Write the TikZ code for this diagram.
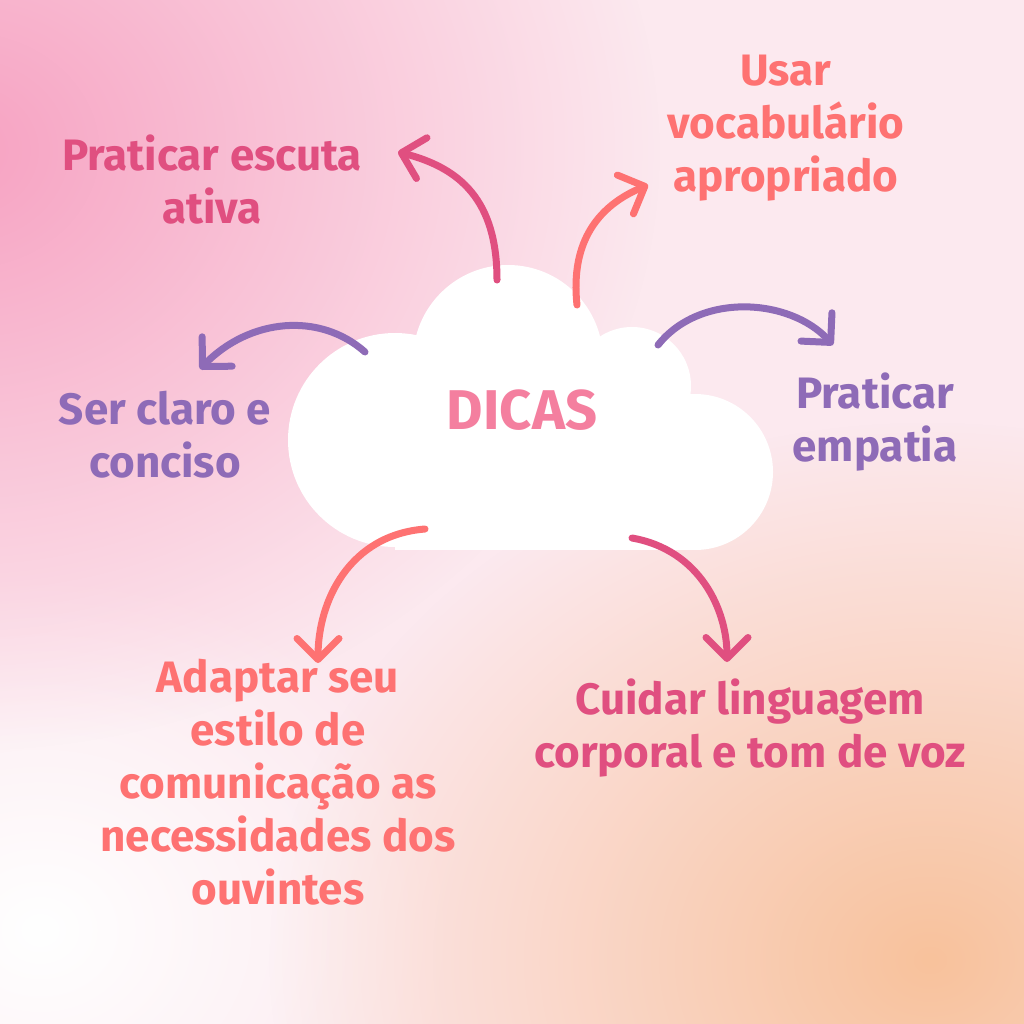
\documentclass[tikz,border=0pt]{standalone}
\usepackage{fontspec}
\setmainfont{Fira Sans}
\usetikzlibrary{arrows.meta,fadings}
\tikzfading[name=softblob, inner color=transparent!0, outer color=transparent!100]
\definecolor{bgbase}{HTML}{FCE9EF}
\definecolor{bgpink}{HTML}{F7A2C2}
\definecolor{bgpeach}{HTML}{F8C29C}
\definecolor{cpink}{HTML}{E04F80}
\definecolor{ccoral}{HTML}{FE7272}
\definecolor{cpurple}{HTML}{8E6BB7}
\definecolor{cdicas}{HTML}{F47F9F}
\tikzset{
  lbl/.style={align=center, inner sep=0pt, font=\bfseries\fontsize{44}{53}\selectfont},
  conn/.style={line width=7pt, line cap=round,
    -{Straight Barb[length=21pt,width=42pt,round]}},
  cloudpart/.style={fill=white},
}
\begin{document}
\begin{tikzpicture}[x=1pt,y=-1pt]
\useasboundingbox (0,0) rectangle (1024,1024);
\fill[bgbase] (0,0) rectangle (1024,1024);
\begin{scope}
\clip (0,0) rectangle (1024,1024);
\fill[white, path fading=softblob] (40,930) ellipse [x radius=420, y radius=360];
\fill[bgpink, path fading=softblob] (-40,150) ellipse [x radius=700, y radius=600];
\fill[bgpeach, path fading=softblob] (930,960) ellipse [x radius=660, y radius=540];
\end{scope}
% cloud
\path[cloudpart] (508,360) circle (95);
\path[cloudpart] (395,440) circle (107);
\path[cloudpart] (632,386) circle (59);
\path[cloudpart] (695,472) circle (78);
\path[cloudpart] (395,400) rectangle (695,550);
\node[font=\bfseries\fontsize{56}{64}\selectfont, text=cdicas] (dicas) at (522,410) {DICAS};
% labels
\node[lbl, text=cpink] (escuta) at (212,180) {Praticar escuta\\ativa};
\node[lbl, text=ccoral] (vocab) at (786,128) {Usar\\vocabulário\\apropriado};
\node[lbl, text=cpurple] (claro) at (165,435) {Ser claro e\\conciso};
\node[lbl, text=cpurple] (empatia) at (875,422) {Praticar\\empatia};
\node[lbl, text=ccoral] (adaptar) at (278,782) {Adaptar seu\\estilo de\\comunicação as\\necessidades dos\\ouvintes};
\node[lbl, text=cpink] (cuidar) at (750,728) {Cuidar linguagem\\corporal e tom de voz};
% connector ends
\coordinate (s1) at (497,280); \coordinate (t1) at (398,152);
\coordinate (s2) at (577,305); \coordinate (t2) at (648,185);
\coordinate (s3) at (365,352); \coordinate (t3) at (200,369);
\coordinate (s4) at (658,345); \coordinate (t4) at (833,345);
\coordinate (s5) at (425,529); \coordinate (t5) at (318,663);
\coordinate (s6) at (632,538); \coordinate (t6) at (727,662);
\draw[conn, cpink] (s1) .. controls (497,200) and (460,168) .. (t1);
\draw[conn, ccoral] (s2) .. controls (570,240) and (600,205) .. (t2);
\draw[conn, cpurple] (s3) .. controls (320,312) and (250,318) .. (t3);
\draw[conn, cpurple] (s4) .. controls (700,292) and (790,298) .. (t4);
\draw[conn, ccoral] (s5) .. controls (350,535) and (318,600) .. (t5);
\draw[conn, cpink] (s6) .. controls (700,550) and (727,610) .. (t6);
\end{tikzpicture}
\end{document}
